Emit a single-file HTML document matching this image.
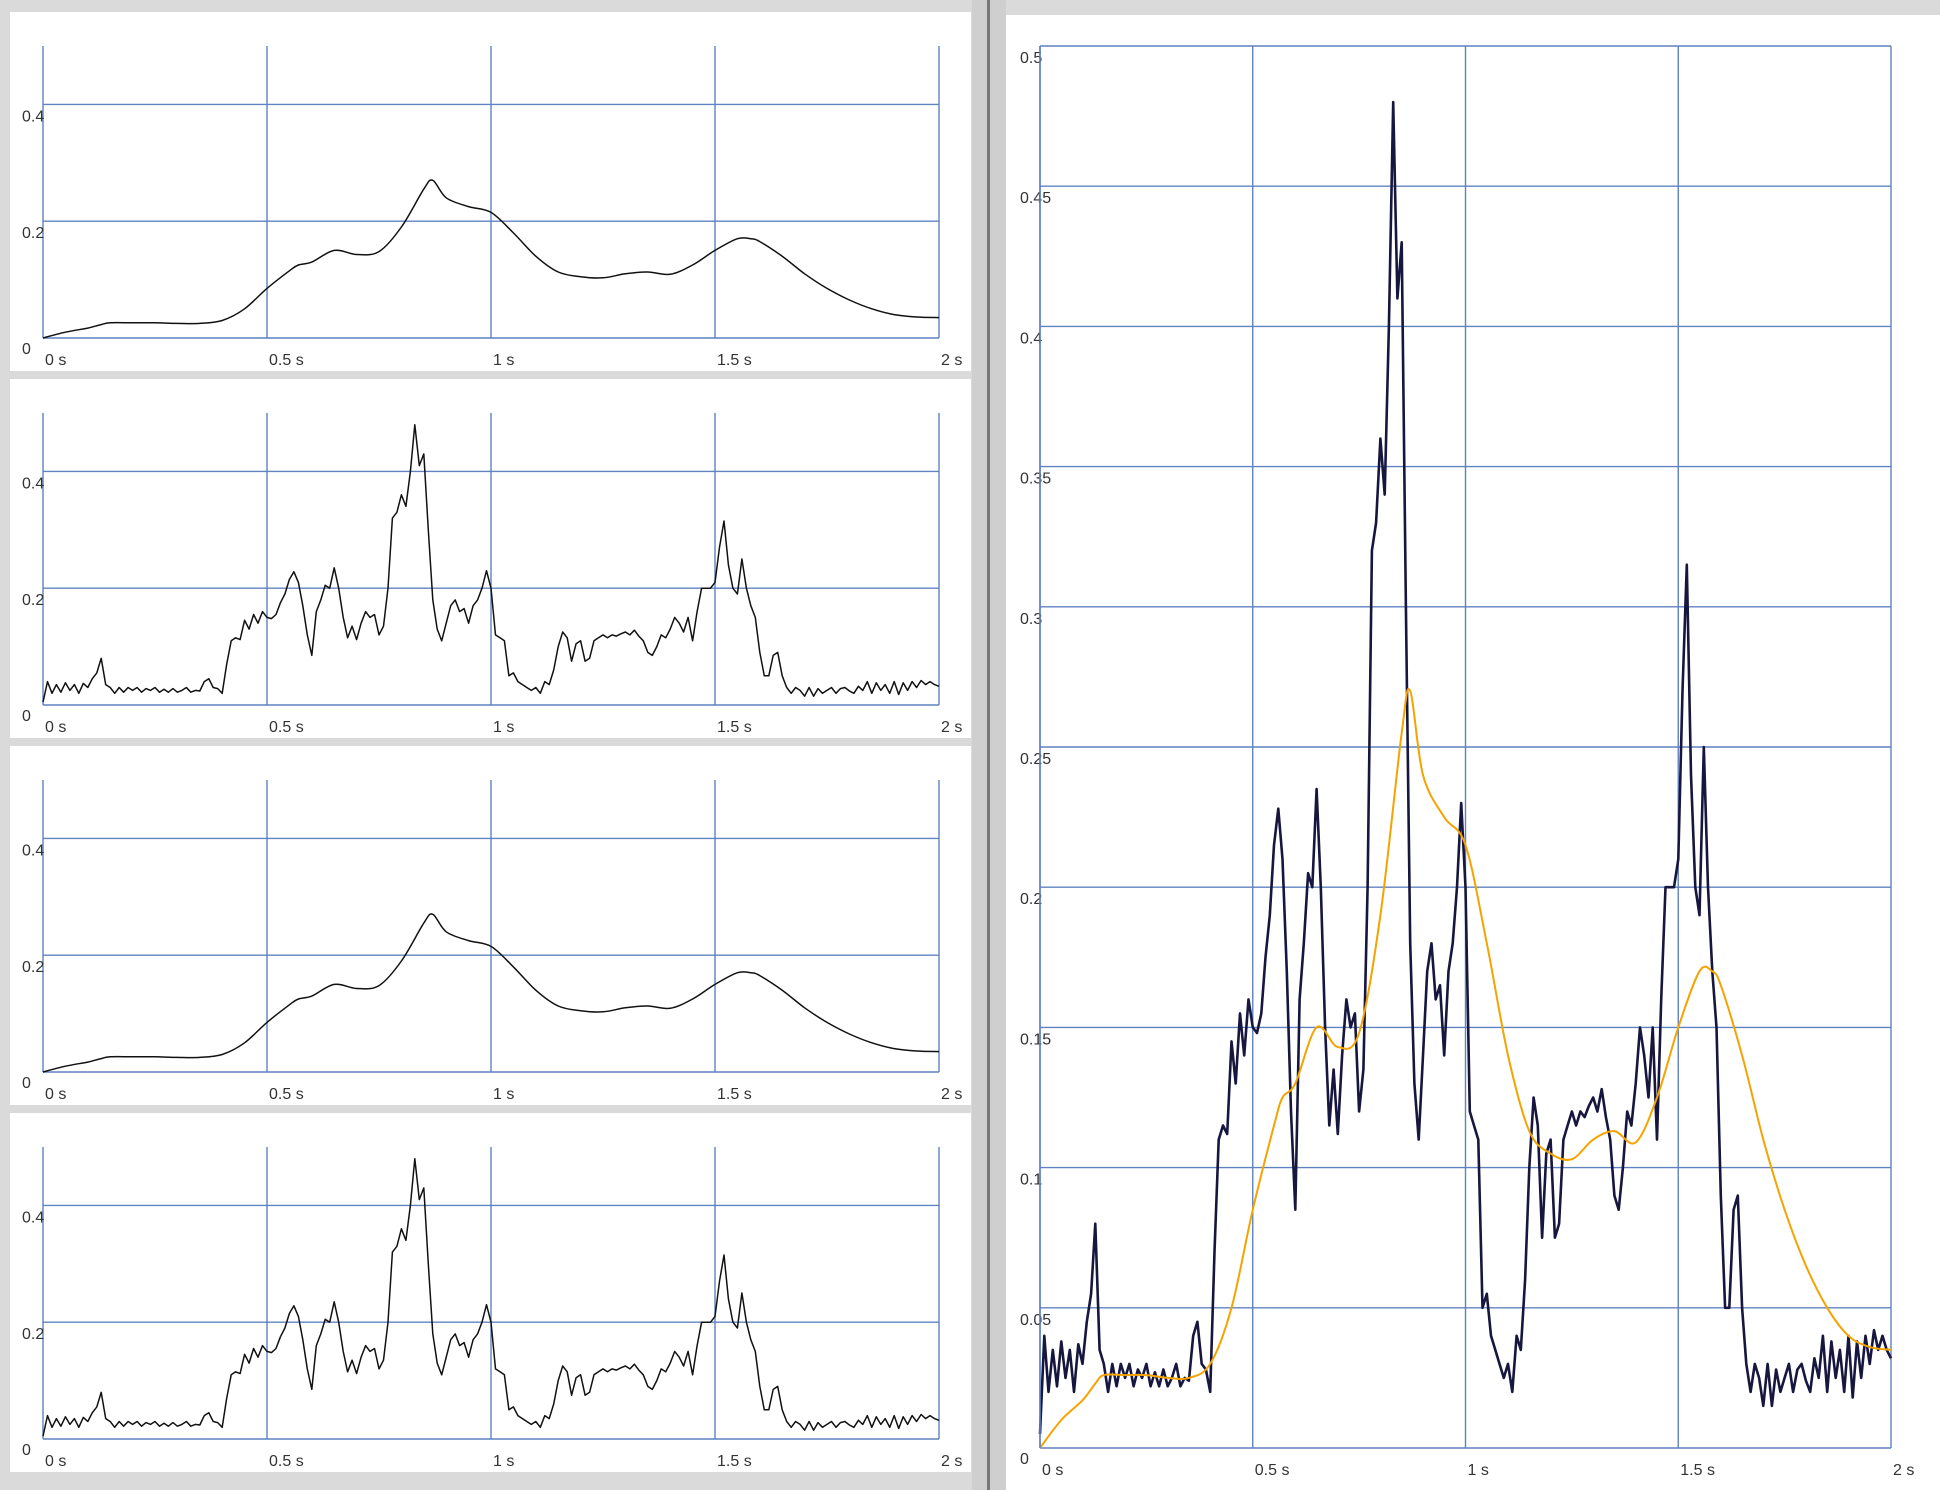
<!DOCTYPE html>
<html><head><meta charset="utf-8">
<style>
html,body{margin:0;padding:0;background:#dadada;width:1940px;height:1490px;overflow:hidden;}
svg{display:block;font-family:"Liberation Sans",sans-serif;}
text{fill:#333;font-size:16px;}
</style></head>
<body>
<svg id="root" width="1940" height="1490">
  <rect x="0" y="0" width="1940" height="1490" fill="#dadada"/>
  <rect x="972" y="0" width="34" height="1490" fill="#cfcfcf"/>
  <rect x="987" y="0" width="3" height="1490" fill="#777"/>
</svg>
<script>
// Smooth envelope series (orange / panels 1 & 3)
const smoothTimes = [0,0.05,0.1,0.13,0.15,0.2,0.25,0.3,0.35,0.4,0.45,0.5,0.55,0.57,0.6,0.65,0.7,0.75,0.8,0.85,0.87,0.9,0.95,1.0,1.05,1.1,1.15,1.2,1.25,1.3,1.35,1.4,1.45,1.5,1.55,1.58,1.6,1.65,1.7,1.75,1.8,1.85,1.9,1.95,2.0];
const smoothValues = [0,0.01,0.017,0.023,0.026,0.026,0.026,0.025,0.025,0.03,0.05,0.085,0.115,0.125,0.13,0.15,0.143,0.148,0.19,0.255,0.27,0.24,0.225,0.215,0.18,0.14,0.113,0.105,0.103,0.11,0.113,0.109,0.125,0.15,0.17,0.17,0.165,0.14,0.11,0.085,0.065,0.05,0.04,0.036,0.035];
// Noisy series sampled every 0.01 s (navy / panels 2 & 4)
const noisyStart = 0, noisyStep = 0.01;
const noisyValues = [
0.005,0.04,0.02,0.035,0.022,0.038,0.025,0.035,0.02,0.037,0.03,0.045,0.055,0.08,0.035,0.03,0.02,0.03,0.022,0.03,0.025,0.03,0.022,0.028,0.025,0.03,0.022,0.027,0.022,0.028,0.022,0.025,0.03,0.022,0.025,0.024,0.04,0.045,0.03,0.028,0.02,
0.07,0.11,0.115,0.112,0.145,0.13,0.155,0.14,0.16,0.15,0.148,0.155,0.175,0.19,0.215,0.228,0.21,0.17,0.12,0.085,0.16,0.18,0.205,0.2,0.235,0.2,0.15,0.115,0.135,0.112,0.14,0.16,0.15,0.155,0.12,0.135,
0.2,0.32,0.33,0.36,0.34,0.4,0.48,0.41,0.43,0.3,0.18,0.13,0.11,0.14,0.17,0.18,0.16,0.165,0.14,0.17,0.18,0.2,0.23,0.2,0.12,0.115,0.11,0.05,0.055,0.04,0.035,0.03,0.025,0.03,0.02,0.04,0.035,0.06,0.1,0.125,0.115,0.075,0.105,0.11,0.075,0.08,0.11,0.115,0.12,0.115,0.12,0.118,0.122,0.125,0.12,0.128,0.118,0.11,0.09,0.085,0.1,0.12,0.115,0.13,
0.15,0.14,0.125,0.15,0.11,0.16,0.2,0.2,0.2,0.21,0.27,0.315,0.24,0.2,0.19,0.25,0.2,0.17,0.15,0.09,0.05,0.05,0.085,0.09,0.05,0.03,0.02,0.03,0.025,0.015,0.03,0.015,0.028,0.02,0.025,0.03,0.02,0.028,0.03,0.024,0.02,0.032,0.025,0.04,0.02,0.038,0.025,0.035,0.02,0.04,0.018,0.038,0.025,0.04,0.03,0.042,0.035,0.04,0.035,0.032];
const xTicks = [0,0.5,1,1.5,2];
const xTickLabels = ["0 s","0.5 s","1 s","1.5 s","2 s"];
const smallYTicks = [0,0.2,0.4];
const smallYLabels = ["0","0.2","0.4"];
const bigYTicks = [0,0.05,0.1,0.15,0.2,0.25,0.3,0.35,0.4,0.45,0.5];
const bigYLabels = ["0","0.05","0.1","0.15","0.2","0.25","0.3","0.35","0.4","0.45","0.5"];

const NS="http://www.w3.org/2000/svg";
const root=document.getElementById('root');
function mk(tag,attrs,parent){const e=document.createElementNS(NS,tag);for(const k in attrs)e.setAttribute(k,attrs[k]);(parent||root).appendChild(e);return e;}

function pathFrom(pts,smooth){
  if(!smooth) return pts.map((p,i)=>(i?'L':'M')+p[0].toFixed(1)+','+p[1].toFixed(1)).join('');
  let d='M'+pts[0][0].toFixed(1)+','+pts[0][1].toFixed(1);
  for(let i=0;i<pts.length-1;i++){
    const p0=pts[Math.max(0,i-1)],p1=pts[i],p2=pts[i+1],p3=pts[Math.min(pts.length-1,i+2)];
    const c1=[p1[0]+(p2[0]-p0[0])/6,p1[1]+(p2[1]-p0[1])/6];
    const c2=[p2[0]-(p3[0]-p1[0])/6,p2[1]-(p3[1]-p1[1])/6];
    d+='C'+c1[0].toFixed(1)+','+c1[1].toFixed(1)+' '+c2[0].toFixed(1)+','+c2[1].toFixed(1)+' '+p2[0].toFixed(1)+','+p2[1].toFixed(1);
  }
  return d;
}

function drawChart(g, box, yTicks, yLabels, series){
  const sx=t=>box.x0+(t-0)/(2-0)*(box.x1-box.x0);
  const sy=v=>box.y1-(v/0.5)*(box.y1-box.y0);
  const grid="#5f82c0";
  yTicks.forEach((v,i)=>{
    if(v===0)return;
    const l=mk('line',{x1:box.x0,x2:box.x1,y1:sy(v),y2:sy(v),stroke:grid,'stroke-width':1.4},g);
    
    
  });
  xTicks.forEach((t,i)=>{
    const l=mk('line',{x1:sx(t),x2:sx(t),y1:box.y0,y2:box.y1,stroke:grid,'stroke-width':1.4},g);
    
    
    const tx=mk('text',{x:sx(t)+2,y:box.y1+27},g);
    tx.textContent=xTickLabels[i];
    
    
  });
  const ax=mk('line',{x1:box.x0,x2:box.x1,y1:box.y1,y2:box.y1,stroke:grid,'stroke-width':1.6},g);
  
  
  yTicks.forEach((v,i)=>{
    const tx=mk('text',{x:box.lx,y:sy(v)+(v===0?16:17)},g);
    tx.textContent=yLabels[i];
    
    
  });
  series.forEach(s=>{
    const pts=s.t.map((t,i)=>[sx(t),sy(s.v[i])]);
    const p=mk('path',{d:pathFrom(pts,s.smooth),fill:'none',stroke:s.color,'stroke-width':s.w,'stroke-linejoin':'round'},g);
    
    
  });
}
const noisyTimes=noisyValues.map((v,i)=>noisyStart+i*noisyStep);
const smoothSeries=(c,w)=>({t:smoothTimes,v:smoothValues,color:c,w:w,smooth:true,name:'smooth-envelope-line'});
const noisySeries=(c,w)=>({t:noisyTimes,v:noisyValues,color:c,w:w,smooth:false,name:'noisy-signal-line'});

const panelTops=[12,379,746,1113];
panelTops.forEach((top,i)=>{
  const g=mk('g',{});
  
  
  const bg=mk('rect',{x:10,y:top,width:961,height:359,fill:'#fff'},g);
  
  
  const box={x0:43,x1:939,y0:top+34,y1:top+326,lx:22};
  drawChart(g,box,smallYTicks,smallYLabels,[i%2===0?smoothSeries('#111',1.5):noisySeries('#111',1.5)]);
});

const gb=mk('g',{});


const bg2=mk('rect',{x:1006,y:15,width:934,height:1475,fill:'#fff'},gb);


const bigBox={x0:1040,x1:1891,y0:46,y1:1448,lx:1020};
drawChart(gb,bigBox,bigYTicks,bigYLabels,[noisySeries('#16163f',2.6),smoothSeries('#f5a300',2)]);
const lft=mk('line',{x1:1040,x2:1040,y1:46,y2:1448,stroke:'#5f82c0','stroke-width':1.6},gb);


</script>
</body></html>
